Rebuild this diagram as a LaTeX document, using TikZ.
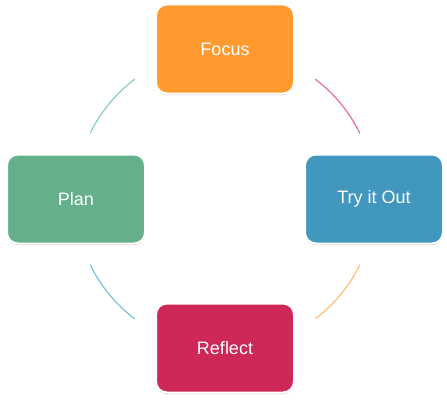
\documentclass[tikz,border=0pt]{standalone}
\usepackage{fontspec}
\setmainfont{Liberation Sans}
\usetikzlibrary{shadows}
\definecolor{cfocus}{RGB}{255,155,46}
\definecolor{cplan}{RGB}{101,176,138}
\definecolor{ctry}{RGB}{65,151,190}
\definecolor{creflect}{RGB}{206,40,89}
\definecolor{arcTL}{RGB}{140,205,180}
\definecolor{arcTR}{RGB}{228,112,152}
\definecolor{arcBR}{RGB}{255,190,120}
\definecolor{arcBL}{RGB}{120,192,222}
\begin{document}
\begin{tikzpicture}[x=1pt,y=1pt,
  box/.style={rounded corners=11pt, draw=white, line width=2pt,
    minimum width=138pt, minimum height=89pt, text=white,
    font=\fontsize{18}{21}\selectfont,
    drop shadow={shadow xshift=0pt, shadow yshift=-1.5pt, opacity=0.35, fill=black!60}},
  ring/.style={line width=1.2pt}]
\useasboundingbox[fill=white] (0,0) rectangle (447,400);
\coordinate (c) at (225,201);
\draw[ring, arcTL] (c) ++(127:150) arc[start angle=127, end angle=154, radius=150];
\draw[ring, arcTR] (c) ++(53:150) arc[start angle=53, end angle=26, radius=150];
\draw[ring, arcBR] (c) ++(-53:150) arc[start angle=-53, end angle=-26, radius=150];
\draw[ring, arcBL] (c) ++(-127:150) arc[start angle=-127, end angle=-154, radius=150];
\node[box, fill=cfocus] (focus) at (225,351) {Focus};
\node[box, fill=cplan] (plan) at (76,201) {Plan};
\node[box, fill=ctry] (try) at (374,201) {Try it Out};
\node[box, fill=creflect] (reflect) at (225,52) {Reflect};
\end{tikzpicture}
\end{document}
